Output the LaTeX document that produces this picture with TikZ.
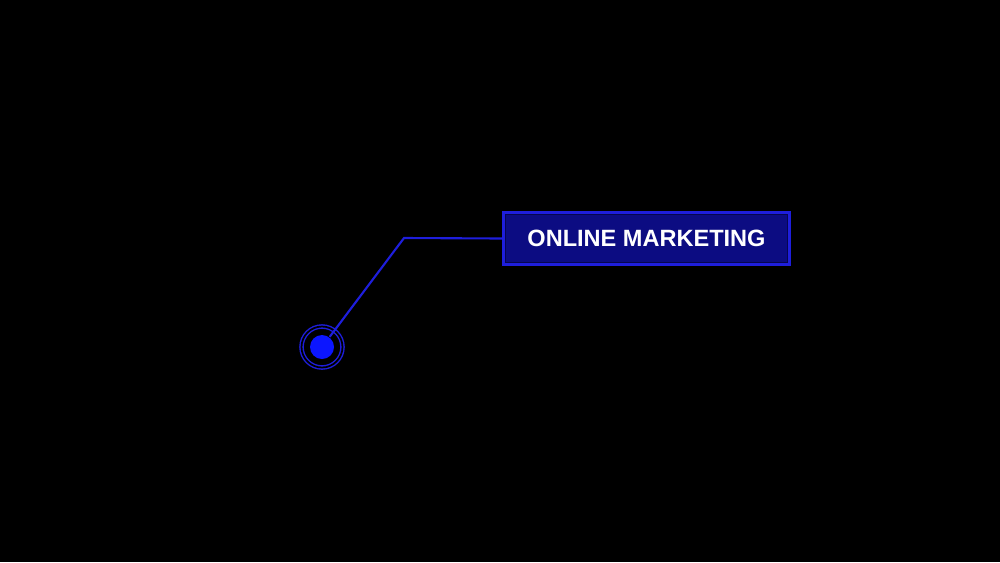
\documentclass[tikz,border=0pt]{standalone}
\usepackage{fontspec}
\setmainfont{Liberation Sans}
\usetikzlibrary{positioning}
\definecolor{wireblue}{RGB}{30,30,220}
\definecolor{dotblue}{RGB}{12,22,255}
\definecolor{tagnavy}{RGB}{12,12,130}
\definecolor{tagdark}{RGB}{6,6,80}

\begin{document}
\begin{tikzpicture}
	\tikzstyle{wire}=[draw=wireblue, line width=0.6pt]
	\tikzstyle{tagbox}=[rectangle, draw=wireblue, line width=0.7pt, fill=tagnavy, minimum width=2.86cm, minimum height=0.52cm, inner sep=0pt, text=white, font=\fontsize{6.7pt}{8pt}\selectfont\bfseries]
	\fill[black] (0,0) rectangle (10,5.62);
	\useasboundingbox (0,0) rectangle (10,5.62);
	\node (dot) at (3.22,2.15) [circle, fill=dotblue, minimum size=0.24cm, inner sep=0pt] {};
	\node (ring) at (dot) [circle, draw=wireblue, double=black, double distance=0.5pt, line width=0.4pt, minimum size=0.41cm, inner sep=0pt] {};
	\coordinate (bend) at (4.04,3.24);
	\node (tag) at (6.465,3.235) [tagbox] {ONLINE MARKETING};
	% dark inner edge of the tag
	\draw[tagdark, line width=0.35pt] ([shift={(0.035,0.035)}]tag.south west) rectangle ([shift={(-0.035,-0.035)}]tag.north east);
	\draw[wire] (dot) -- (bend) -- (tag.west);
\end{tikzpicture}
\end{document}
